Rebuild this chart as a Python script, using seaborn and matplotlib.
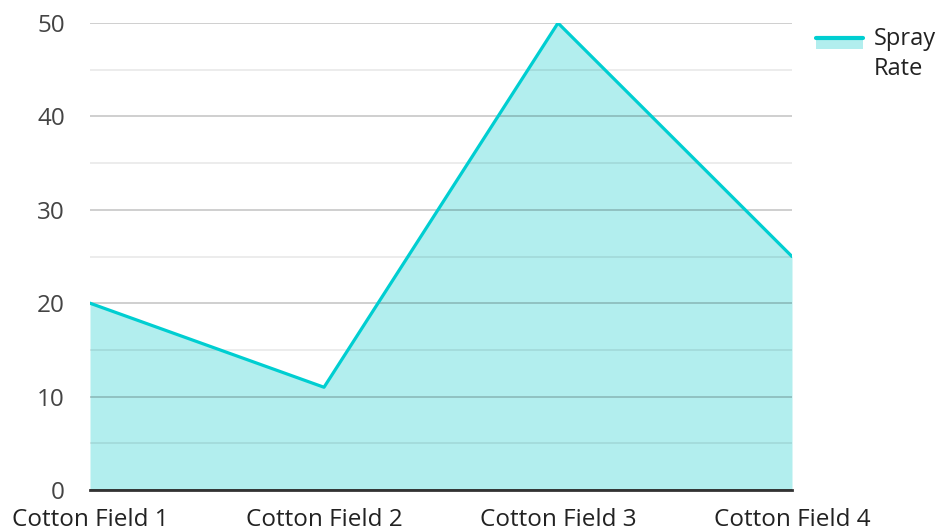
import matplotlib
matplotlib.use("Agg")
import matplotlib.pyplot as plt
import seaborn as sns
import pandas as pd
from matplotlib.lines import Line2D
from matplotlib.patches import Patch, Rectangle
from matplotlib.legend_handler import HandlerBase
from matplotlib.ticker import MultipleLocator

categories = ["Cotton Field 1", "Cotton Field 2", "Cotton Field 3", "Cotton Field 4"]
spray_rate = [20, 11, 50, 25]
y_ticks = [0, 10, 20, 30, 40, 50]
series_name = "Spray\nRate"

sns.set_theme(style="white")
plt.rcParams["font.family"] = ["Open Sans", "DejaVu Sans"]

line_color = "#00CED1"
fill_color = "#B2EEEE"

df = pd.DataFrame({"x": range(len(categories)), "cat": categories, "y": spray_rate})

fig = plt.figure(figsize=(9.42, 5.31), dpi=100)
ax = fig.add_axes([90 / 942, 1 - 490 / 531, (792 - 90) / 942, (490 - 23) / 531])

ax.fill_between(df["x"], 0, df["y"], color=fill_color, linewidth=0, zorder=1)
sns.lineplot(data=df, x="x", y="y", ax=ax, color=line_color, linewidth=2.3, zorder=4, legend=False)

ax.set_xlim(0, len(categories) - 1)
ax.set_ylim(0, 50)
ax.set_xticks(range(len(categories)))
ax.set_xticklabels(categories)
ax.set_yticks(y_ticks)
ax.yaxis.set_minor_locator(MultipleLocator(5))
ax.set_axisbelow(False)
ax.grid(which="major", axis="y", color="black", alpha=0.22, linewidth=1.2, zorder=2)
ax.grid(which="minor", axis="y", color="black", alpha=0.09, linewidth=1.2, zorder=2)
ax.grid(which="major", axis="x", visible=False)
ax.set_xlabel("")
ax.set_ylabel("")
for s in ["top", "right", "left"]:
    ax.spines[s].set_visible(False)
ax.spines["bottom"].set_color("#333333")
ax.spines["bottom"].set_linewidth(2)
ax.tick_params(axis="both", which="both", length=0, labelsize=17.5, colors="#444444")
ax.tick_params(axis="y", pad=18)
ax.tick_params(axis="x", pad=13, labelcolor="#222222")


class AreaHandler(HandlerBase):
    def create_artists(self, legend, orig_handle, xdescent, ydescent, width, height, fontsize, trans):
        ly = -ydescent + height * 0.7 + 9.4
        rect = Rectangle((-xdescent, ly - 7.5), width, 7.5,
                         facecolor=fill_color, edgecolor="none", transform=trans)
        ln = Line2D([-xdescent, -xdescent + width], [ly, ly],
                    color=line_color, linewidth=3, transform=trans)
        return [rect, ln]


handle = Patch(facecolor=fill_color)
leg = fig.legend([handle], [series_name], handler_map={Patch: AreaHandler()},
                 loc="upper left", bbox_to_anchor=(816 / 942, 1 - 27 / 531),
                 frameon=False, fontsize=17, handlelength=2.0, handleheight=0.8,
                 handletextpad=0.45, borderaxespad=0, borderpad=0, labelcolor="#222222")
for t in leg.get_texts():
    t.set_linespacing(1.35)

fig.savefig("out.png", dpi=100)
